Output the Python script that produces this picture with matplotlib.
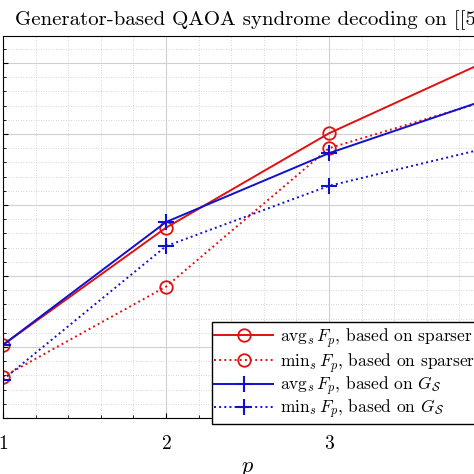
import matplotlib
matplotlib.use('Agg')
import matplotlib.pyplot as plt
from matplotlib.ticker import MultipleLocator

plt.rcParams['font.family'] = 'serif'
plt.rcParams['font.serif'] = ['cmr10', 'DejaVu Serif']
plt.rcParams['mathtext.fontset'] = 'cm'
plt.rcParams['axes.formatter.use_mathtext'] = True

# data (y axis labels are cut off in the reference)
p = [1, 2, 3, 4]
avg_sparse = [1.03, 2.68, 4.01, 5.06]
min_sparse = [0.58, 1.85, 3.80, 4.49]
avg_full = [1.03, 2.76, 3.73, 4.51]
min_full = [0.54, 2.42, 3.27, 3.82]

fig = plt.figure(figsize=(4.74, 4.74), dpi=100)
ax = fig.add_axes([3/474, 56/474, 489/474, 382/474])

red = '#e01010'
blue = '#1010d0'
ax.plot(p, avg_sparse, '-o', color=red, mfc='none', ms=9, mew=1.3, lw=1.4,
        label=r'avg$_s\,F_p$, based on sparser $G^\prime_{\mathcal{S}}$')
ax.plot(p, min_sparse, ':o', color=red, mfc='none', ms=9, mew=1.3, lw=1.4,
        label=r'min$_s\,F_p$, based on sparser $G^\prime_{\mathcal{S}}$')
ax.plot(p, avg_full, '-+', color=blue, ms=11, mew=1.5, lw=1.4,
        label=r'avg$_s\,F_p$, based on $G_{\mathcal{S}}$')
ax.plot(p, min_full, ':+', color=blue, ms=11, mew=1.5, lw=1.4,
        label=r'min$_s\,F_p$, based on $G_{\mathcal{S}}$')

ax.set_xlim(1, 4)
ax.set_ylim(0, 382/71)
ax.set_xticks([1, 2, 3, 4])
ax.xaxis.set_minor_locator(MultipleLocator(0.2))
ax.yaxis.set_major_locator(MultipleLocator(1))
ax.yaxis.set_minor_locator(MultipleLocator(0.2))
ax.set_yticklabels([])
ax.grid(True, which='major', color='#d0d0d0', lw=0.8)
ax.grid(True, which='minor', color='#c8c8c8', lw=0.6, ls=(0, (1, 2)))
ax.tick_params(labelsize=14, direction='in', which='both', pad=12)
ax.set_xlabel(r'$p$', fontsize=16, labelpad=4)
ax.set_title('Generator-based QAOA syndrome decoding on [[5,1,3]]', fontsize=15, loc='left',
             x=0.025, pad=8)

ax.legend(loc='upper left', bbox_to_anchor=(0.427, 0.251), fontsize=12.5,
          fancybox=False, edgecolor='black', framealpha=1, borderpad=0.15,
          labelspacing=0.0, handlelength=3.4, handletextpad=0.4, borderaxespad=0)

fig.savefig('out.png', dpi=100)
